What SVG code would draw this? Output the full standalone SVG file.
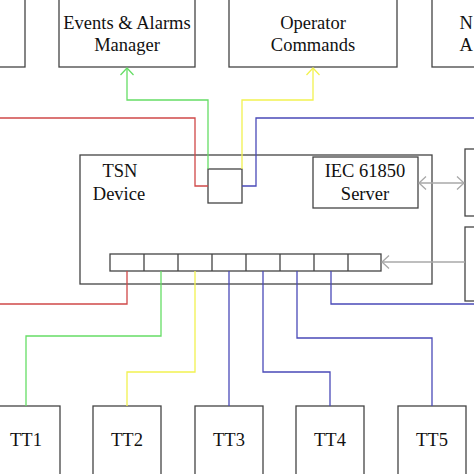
<svg xmlns="http://www.w3.org/2000/svg" width="474" height="474" viewBox="0 0 474 474">
<style>
.box{fill:#fff;stroke:#444;stroke-width:1.3}
.t{font-family:"Liberation Serif","Times New Roman",serif;font-size:18.5px;fill:#111;text-anchor:middle}
.s{text-anchor:start}
.c{fill:none;stroke-width:1.3}
.red{stroke:#d04848}.green{stroke:#66dd66}.yellow{stroke:#f2f250}.blue{stroke:#4a4ab8}.gray{stroke:#a8a8a8}
</style>
<defs>
<marker id="ag" markerUnits="userSpaceOnUse" viewBox="-1 -8 9 16" markerWidth="9" markerHeight="16" refX="7" refY="0" orient="auto-start-reverse"><path d="M0,-6.5 L7,0 L0,6.5" fill="none" stroke="#66dd66" stroke-width="1.3"/></marker>
<marker id="ay" markerUnits="userSpaceOnUse" viewBox="-1 -8 9 16" markerWidth="9" markerHeight="16" refX="7" refY="0" orient="auto-start-reverse"><path d="M0,-6.5 L7,0 L0,6.5" fill="none" stroke="#f2f250" stroke-width="1.3"/></marker>
<marker id="agr" markerUnits="userSpaceOnUse" viewBox="-1 -8 9 16" markerWidth="9" markerHeight="16" refX="7" refY="0" orient="auto-start-reverse"><path d="M0,-6.5 L7,0 L0,6.5" fill="none" stroke="#a8a8a8" stroke-width="1.3"/></marker>
</defs>
<rect width="474" height="474" fill="#fff"/>
<g id="left-box"><rect class="box" x="-10" y="-10" width="35" height="77"/></g>
<g id="events"><rect class="box" x="59" y="-10" width="136" height="77"/><text class="t" x="127" y="29">Events &amp; Alarms</text><text class="t" x="127" y="51">Manager</text></g>
<g id="operator"><rect class="box" x="229" y="-10" width="168" height="77"/><text class="t" x="313" y="29">Operator</text><text class="t" x="313" y="51">Commands</text></g>
<g id="right-top-box"><rect class="box" x="432" y="-10" width="60" height="77"/><text class="t s" x="459.5" y="29">N</text><text class="t s" x="459.5" y="51">A</text></g>
<g id="tsn-device"><rect class="box" x="80" y="155" width="352" height="129"/><text class="t" x="120" y="177">TSN</text><text class="t" x="119" y="200">Device</text></g>
<g id="switch-port"><rect class="box" x="208" y="169" width="34" height="34"/></g>
<g id="iec-server"><rect class="box" x="313" y="157" width="105" height="51"/><text class="t" x="365" y="177">IEC 61850</text><text class="t" x="365" y="200">Server</text></g>
<g id="right-box-1"><rect class="box" x="465" y="149" width="30" height="67"/></g>
<g id="right-box-2"><rect class="box" x="465" y="227" width="30" height="74"/></g>
<g id="ports">
<rect class="box" x="110" y="254" width="271" height="17"/>
<path d="M144,254V271M178,254V271M212,254V271M246,254V271M280,254V271M314,254V271M348,254V271" stroke="#444" stroke-width="1.3"/>
</g>
<g id="tt1"><rect class="box" x="-8" y="406" width="68" height="80"/><text class="t" x="26" y="446">TT1</text></g>
<g id="tt2"><rect class="box" x="93" y="406" width="68" height="80"/><text class="t" x="127" y="446">TT2</text></g>
<g id="tt3"><rect class="box" x="195" y="406" width="68" height="80"/><text class="t" x="229" y="446">TT3</text></g>
<g id="tt4"><rect class="box" x="296" y="406" width="68" height="80"/><text class="t" x="330" y="446">TT4</text></g>
<g id="tt5"><rect class="box" x="398" y="406" width="68" height="80"/><text class="t" x="432" y="446">TT5</text></g>
<g id="connectors">
<path class="c green" d="M208,169V100H127V68" marker-end="url(#ag)"/>
<path class="c yellow" d="M242,169V100H313V68" marker-end="url(#ay)"/>
<path class="c red" d="M0,118H195V186H208"/>
<path class="c blue" d="M474,118H256V186H242"/>
<path class="c gray" d="M419,183H464" marker-start="url(#agr)" marker-end="url(#agr)"/>
<path class="c gray" d="M465,262H382" marker-end="url(#agr)"/>
<path class="c red" d="M127,271V304H0"/>
<path class="c green" d="M161,271V336H26V406"/>
<path class="c yellow" d="M195,271V372H127V406"/>
<path class="c blue" d="M229,271V406"/>
<path class="c blue" d="M263,271V372H330V406"/>
<path class="c blue" d="M297,271V338H432V406"/>
<path class="c blue" d="M331,271V304H474"/>
</g>
</svg>
